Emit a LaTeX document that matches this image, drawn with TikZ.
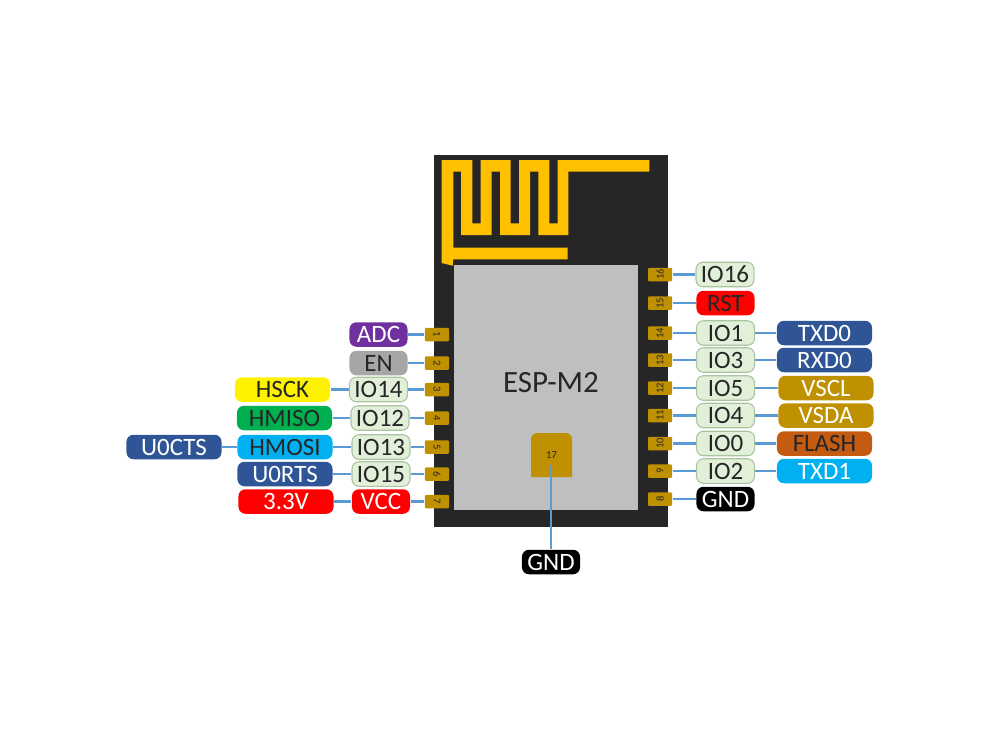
\documentclass[tikz,border=0pt]{standalone}
\usepackage{fontspec}
\setmainfont{Carlito}
\definecolor{boardcol}{HTML}{262626}
\definecolor{shieldcol}{HTML}{BFBFBF}
\definecolor{antcol}{HTML}{FFC000}
\definecolor{padcol}{HTML}{BF9000}
\definecolor{wirecol}{HTML}{5B9BD5}
\definecolor{iocol}{HTML}{E2F0D9}
\definecolor{ioedge}{HTML}{A9C4A0}
\definecolor{navycol}{HTML}{2F5597}
\definecolor{skycol}{HTML}{00B0F0}
\definecolor{purplecol}{HTML}{7030A0}
\definecolor{greycol}{HTML}{A6A6A6}
\definecolor{greencol}{HTML}{00B050}
\definecolor{rustcol}{HTML}{C55A11}
\definecolor{inkcol}{HTML}{262626}
\tikzset{
  tag/.style={fill=#1, rounded corners=0.07cm, inner sep=0pt, font=\fontsize{7.1}{8}\selectfont,
    minimum height=0.245cm},
  short/.style={tag=#1, minimum width=0.58cm},
  long/.style={tag=#1, minimum width=0.95cm},
  iobox/.style={short=iocol, draw=ioedge, line width=0.3pt, text=inkcol},
  pad/.style={fill=padcol, inner sep=0pt, minimum width=0.135cm, minimum height=0.24cm,
    font=\fontsize{3}{3}\selectfont, text=inkcol, rounded corners=0.01cm},
  wire/.style={wirecol, line width=0.6pt}
}
\begin{document}
\begin{tikzpicture}[x=0.01cm,y=-0.01cm]
  \useasboundingbox (0,0) rectangle (1000,741);

  % board and shield
  \fill[boardcol] (434,155) rectangle (668,527);
  \fill[shieldcol] (454,265) rectangle (638,510);
  \node[text=inkcol, font=\fontsize{8.8}{10}\selectfont] (title) at (551,383) {ESP-M2};

  % antenna
  \fill[antcol] (441.7,160) -- (472.3,160) -- (472.3,223.3) -- (480.7,223.3) -- (480.7,160)
    -- (510.7,160) -- (510.7,223.3) -- (519,223.3) -- (519,160)
    -- (549.3,160) -- (549.3,223.3) -- (557.7,223.3) -- (557.7,160)
    -- (649.3,160) -- (649.3,171.7) -- (568.3,171.7) -- (568.3,235) -- (538.3,235)
    -- (538.3,171.7) -- (530,171.7) -- (530,235) -- (500,235)
    -- (500,171.7) -- (491.7,171.7) -- (491.7,235) -- (461,235)
    -- (461,171.7) -- (453.3,171.7) -- (453.3,247.7) -- (567.7,247.7) -- (567.7,259.3)
    -- (453.3,259.3) -- (452.7,265.7) -- (441.7,263) -- cycle;

  % left pads
  \foreach \n/\y in {1/334.5,2/363,3/389.5,4/418,5/447,6/474,7/501.5}
    \node[pad, rotate=-90] (pad\n) at (437,\y) {\n};
  % right pads
  \foreach \n/\y in {16/274.5,15/303,14/333,13/360,12/388,11/415.5,10/443.5,9/471,8/499}
    \node[pad, rotate=90] (pad\n) at (660,\y) {\n};

  % centre pad
  \fill[padcol] (531,477) {[rounded corners=0.06cm] -- (531,433) -- (572,433)} -- (572,477) -- cycle;
  \node[text=inkcol, inner sep=0pt, font=\fontsize{3}{3}\selectfont] (pad17) at (551.5,455) {17};
  \coordinate (pad17end) at (551,465);

  % io names next to the pads
  \foreach \name/\x/\y/\label in {a14/378.5/389.5/IO14, a12/380/418/IO12, a13/381/447/IO13, a15/381/474/IO15,
      a16/725/274.5/IO16, a1/725.5/333/IO1, a3/725.5/360/IO3, a5/725.5/388/IO5,
      a4/725.5/415.5/IO4, a0/725.5/443.5/IO0, a2/725.5/471/IO2}
    \node[iobox] (\name) at (\x,\y) {\label};

  % short tags
  \foreach \name/\x/\y/\col/\ink/\label in {adc/378.5/334.5/purplecol/white/ADC, en/378.5/363/greycol/inkcol/EN,
      vcc/381/501.5/red/white/VCC, rst/725.5/303/red/inkcol/RST, gnda/725.5/499/black/white/GND,
      gndb/551/562/black/white/GND}
    \node[short=\col, text=\ink] (\name) at (\x,\y) {\label};

  % long tags
  \foreach \name/\x/\y/\col/\ink/\label in {hsck/282.5/389.5/yellow/inkcol/HSCK, hmiso/284.5/418/greencol/inkcol/HMISO,
      hmosi/285/447/skycol/inkcol/HMOSI, urts/285/474/navycol/white/U0RTS, vdd/286/501.5/red/white/3.3V,
      ucts/174/447/navycol/white/U0CTS, txa/824.5/333/navycol/white/TXD0, rxa/824.5/360/navycol/white/RXD0,
      vscl/826/388/padcol/white/VSCL, vsda/826/415.5/padcol/white/VSDA, flash/824.5/443.5/rustcol/inkcol/FLASH,
      txb/824.5/471/skycol/white/TXD1}
    \node[long=\col, text=\ink] (\name) at (\x,\y) {\label};

  % wires
  \foreach \a/\b in {adc/pad1, en/pad2, a14/pad3, a12/pad4, a13/pad5, a15/pad6, vcc/pad7,
      hsck/a14, hmiso/a12, hmosi/a13, urts/a15, vdd/vcc, ucts/hmosi,
      pad16/a16, pad15/rst, pad14/a1, pad13/a3, pad12/a5, pad11/a4, pad10/a0, pad9/a2, pad8/gnda,
      a1/txa, a3/rxa, a5/vscl, a4/vsda, a0/flash, a2/txb}
    \draw[wire] (\a) -- (\b);
  \draw[wire] (pad17end) -- (gndb);
\end{tikzpicture}
\end{document}
